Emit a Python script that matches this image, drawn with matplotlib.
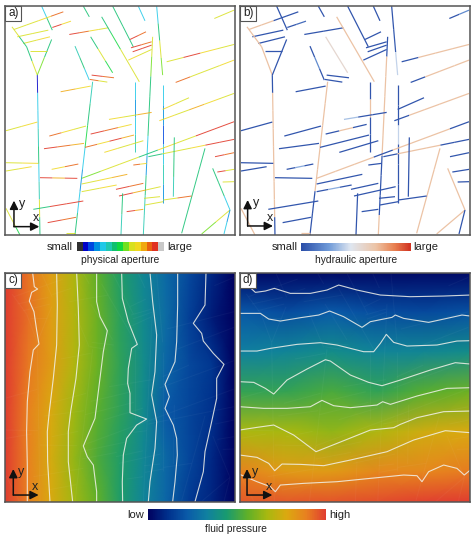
import numpy as np
import matplotlib
matplotlib.use("Agg")
import matplotlib.pyplot as plt
from matplotlib.collections import LineCollection
from matplotlib.colors import LinearSegmentedColormap, ListedColormap, Normalize
from matplotlib.cm import ScalarMappable
from matplotlib.patches import Rectangle

plt.rcParams['font.family'] = ['Liberation Sans', 'DejaVu Sans']

# fracture network (x0, y0, x1, y1)
fractures = [
    (125,18,157,90), (42,88,190,35), (157,82,213,63), (52,110,145,90), (70,130,150,110),
    (36,80,80,140), (80,140,112,225), (155,118,112,225), (90,153,140,153), (112,225,120,705),
    (250,18,268,50), (208,103,325,83), (305,50,418,245), (338,18,400,140), (415,18,435,62),
    (390,118,438,95), (393,143,455,125), (398,155,455,135), (385,180,455,148), (470,18,488,225),
    (458,110,430,705), (643,55,702,30), (500,185,702,133), (527,247,702,180), (272,110,338,218),
    (225,138,268,240), (275,225,342,233), (270,238,322,246), (182,275,272,258), (278,245,225,705),
    (406,245,406,455), (488,255,488,610), (488,328,567,293), (478,362,702,280), (327,358,455,337),
    (18,392,112,366), (148,408,258,378), (272,402,395,373), (132,446,252,430), (255,442,402,405),
    (313,457,430,422), (245,535,702,365), (445,470,702,418), (523,412,520,590), (615,445,545,700),
    (645,470,702,458), (400,495,440,490), (18,488,115,490), (18,513,95,500), (155,508,235,492),
    (120,533,232,535), (245,552,382,523), (245,575,350,555), (348,568,430,550), (357,588,482,560),
    (652,516,702,508), (668,546,702,545), (638,505,690,630), (690,630,605,702), (690,630,672,702),
    (368,580,363,705), (432,595,480,590), (435,615,490,605), (490,600,575,588), (380,635,430,628),
    (100,628,250,603), (143,668,228,652), (18,625,60,705), (198,700,225,700),
]

# physical aperture along each fracture, 0 small to 1 large
ap_phys = [
    [.3,.45], [.65,.6,.7,.85], [.88,.7], [.65,.65], [.6,.7],
    [.65,.4], [.4,.6], [.45,.55], [.65], [.12,.3,.3,.35,.45,.3,.35,.6,.45],
    [.4], [.88,.85,.7,.65], [.45,.5,.6,.65], [.45,.4], [.3],
    [.88,.8], [.88,.85], [.88,.9], [.7,.65], [.3,.4,.65,.55],
    [.65,.55,.45,.4,.4,.3,.25,.4,.35,.35], [.65], [.65,.88,.7,.65], [.85,.65,.65,.7], [.45,.6,.5],
    [.35,.45,.3], [.88,.85], [.8,.6], [.75,.7], [.35,.45,.5,.3,.2,.3,.4],
    [.3,.25,.3,.35], [.3,.25,.15,.3,.35,.25], [.7,.6], [.7,.65,.75,.7,.65], [.7,.65,.75],
    [.65,.7], [.85,.7,.65], [.88,.85,.7], [.88,.8,.75], [.85,.7,.88,.75],
    [.7,.65,.6], [.55,.65,.65,.45,.7,.65,.88,.9], [.4,.65,.65,.7,.88,.88], [.4,.4,.35], [.4,.45,.4,.45],
    [.88,.85], [.85,.7], [.65,.7], [.65,.7], [.7,.85],
    [.88,.75,.88], [.65,.7,.75], [.65,.7], [.88,.8], [.88,.75,.65],
    [.88,.6], [.65], [.4,.45,.3], [.65,.55], [.25,.3],
    [.4,.35], [.65], [.65], [.65,.85], [.88,.75],
    [.4,.88,.88], [.88,.85], [.65,.65,.5], [.65],
]

# hydraulic aperture along each fracture
ap_hyd = [
    [.03,.03], [.68,.68,.03,.03], [.03,.1], [.03], [.03],
    [.68], [.68], [.03], [.03], [.03,.68,.68,.68,.68,.68,.68,.68,.03],
    [.03], [.03,.03], [.68], [.03], [.03],
    [.03], [.03], [.03], [.03], [.03,.05,.4],
    [.03,.68,.68,.68,.68,.68,.03,.03,.03,.68], [.03,.2], [.03,.68,.68,.68], [.03,.68,.68,.68], [.55],
    [.03,.2,.03], [.03], [.03], [.03], [.68,.68,.68,.68,.68,.03,.03],
    [.03,.68,.03,.03], [.03,.03,.4,.03,.03,.03], [.03], [.03,.68,.68,.68,.68], [.35,.03,.03],
    [.03], [.03], [.03,.68,.03], [.03], [.03],
    [.03], [.68,.68,.68,.03,.68,.68,.68,.03], [.03,.68,.68,.68,.03,.03], [.03], [.68,.68,.68,.68],
    [.03], [.03], [.03], [.03], [.03,.3,.03],
    [.03], [.03], [.03,.3,.03], [.03], [.03],
    [.03], [.03], [.68], [.68], [.03],
    [.03], [.03], [.03], [.03], [.03],
    [.03], [.03], [.68], [.68],
]

# fluid pressure read at grid points, 0 low to 1 high
c_x = [16, 85, 154, 223, 292, 361, 430, 499, 568, 637, 705]
c_y = [23, 160, 300, 440, 580, 710]
c_p = [
    [1.0, .907, .804, .683, .556, .45, .356, .265, .175, .086, 0],
    [1.0, .915, .807, .69, .577, .469, .373, .273, .152, .065, 0],
    [1.0, .90, .81, .685, .575, .48, .38, .25, .175, .125, 0],
    [1.0, .885, .77, .655, .553, .475, .375, .217, .165, .112, 0],
    [1.0, .883, .76, .64, .53, .45, .36, .26, .17, .09, 0],
    [1.0, .885, .77, .66, .56, .45, .35, .25, .14, .085, 0],
]
d_x = [8, 146, 284, 422, 560, 700]
d_y = [23, 140, 260, 380, 500, 620, 710]
d_p = [
    [.02, .02, .02, .02, .02, .02],
    [.215, .185, .22, .185, .176, .197],
    [.33, .35, .38, .344, .356, .38],
    [.488, .487, .524, .483, .545, .58],
    [.677, .67, .633, .684, .75, .775],
    [.88, .82, .82, .865, .87, .895],
    [.95, .95, .96, .97, .99, 1.0],
]

# isobars
c_lines = [
    [(98,23),(103,65),(113,72),(95,82),(88,108),(102,140),(110,195),(117,237),(100,255),(90,320),(82,410),(80,500),(82,600),(82,710)],
    [(170,23),(172,120),(170,240),(160,340),(148,440),(142,500),(143,590),(150,710)],
    [(230,23),(235,130),(238,240),(228,340),(212,440),(205,500),(205,590),(218,710)],
    [(290,23),(290,110),(300,155),(322,197),(310,260),(295,380),(285,460),(250,543),(262,575),(280,600),(290,680),(290,710)],
    [(365,23),(367,100),(385,170),(412,238),(395,250),(385,310),(383,355),(390,385),(390,443),(440,462),(410,480),(380,520),(370,570),(367,650),(368,710)],
    [(450,23),(458,110),(470,210),(465,320),(455,390),(470,470),(465,550),(450,650),(445,710)],
    [(533,23),(533,120),(530,230),(525,290),(495,358),(508,395),(495,430),(520,480),(530,520),(532,570),(525,650),(518,710)],
    [(618,23),(615,120),(580,175),(605,205),(610,228),(640,265),(672,298),(650,340),(650,400),(635,470),(615,560),(610,620),(585,710)],
]
d_lines = [
    [(42,70),(55,82),(85,78),(112,70),(160,85),(220,85),(270,75),(305,60),(360,75),(430,90),(520,95),(620,93),(700,90)],
    [(8,145),(70,145),(95,162),(130,168),(190,158),(245,150),(278,138),(320,155),(375,187),(400,170),(465,157),(475,150),(500,160),(575,172),(630,160),(675,150),(700,153)],
    [(8,258),(60,258),(100,250),(180,238),(250,233),(300,240),(380,260),(410,260),(430,235),(448,208),(470,232),(510,243),(600,240),(660,228),(700,227)],
    [(8,350),(50,352),(85,370),(110,387),(150,345),(210,312),(265,284),(280,288),(340,330),(395,352),(435,362),(490,345),(580,315),(655,293),(700,297)],
    [(8,425),(80,430),(150,430),(220,425),(255,406),(290,422),(340,428),(420,420),(437,410),(460,418),(540,393),(630,370),(700,368)],
    [(8,495),(60,487),(110,480),(170,510),(237,560),(300,535),(400,495),(470,488),(490,478),(540,458),(620,440),(700,438)],
    [(8,570),(60,577),(95,595),(113,617),(135,597),(190,598),(260,602),(340,585),(450,560),(530,525),(625,497),(700,503)],
    [(8,628),(60,650),(100,665),(115,680),(130,660),(200,655),(300,650),(400,640),(500,630),(540,632),(555,650),(575,620),(620,600),(660,610),(682,630),(700,615)],
]

phys_colors = ['#303030', '#0000c8', '#0048e0', '#0090e0', '#20c8e8', '#20c8b0', '#10c070', '#10d840',
               '#70e020', '#d8e020', '#f0d820', '#f0a810', '#e86010', '#e03020', '#c8c8c8']
hyd_nodes = [(0, '#2a4ea8'), (.25, '#6f9ad8'), (.45, '#dfe6f0'), (.68, '#ecc4a6'), (.85, '#e88050'), (1, '#d03020')]
fluid_nodes = [(0, '#00005e'), (.11, '#00308c'), (.22, '#0a5aa8'), (.33, '#1080a0'), (.44, '#189a70'),
               (.56, '#60b028'), (.67, '#a8b810'), (.78, '#dca810'), (.89, '#e88020'), (1, '#e03c30')]

phys_cmap = ListedColormap(phys_colors)
hyd_cmap = LinearSegmentedColormap.from_list('hyd', hyd_nodes)
fluid_cmap = LinearSegmentedColormap.from_list('fluid', fluid_nodes)
norm = Normalize(0, 1)

W, H = 474, 535
fig = plt.figure(figsize=(W / 100, H / 100), dpi=100)
GREY = '#555555'
TXT = '#222222'


def box(l, t, r, b):
    return fig.add_axes([l / W, 1 - b / H, (r - l) / W, (b - t) / H])


def label(x, y, s, ha='center', size=8):
    fig.text(x / W, 1 - y / H, s, ha=ha, va='center', fontsize=size, color=TXT)


def network_segments(dx=0, dy=0):
    segs = []
    for x0, y0, x1, y1 in fractures:
        segs.append([(x0 + dx, y0 + dy), (x1 + dx, y1 + dy)])
    return segs


def split(values):
    segs, vals = [], []
    for (x0, y0, x1, y1), v in zip(fractures, values):
        t = np.linspace(0, 1, len(v) + 1)
        for i in range(len(v)):
            segs.append([(x0 + (x1 - x0) * t[i], y0 + (y1 - y0) * t[i]),
                         (x0 + (x1 - x0) * t[i + 1], y0 + (y1 - y0) * t[i + 1])])
            vals.append(v[i])
    return segs, vals


def finish(ax, name, org, ymin, ymax, xmin, xmax):
    ax.set_xlim(xmin, xmax)
    ax.set_ylim(ymax, ymin)
    ax.set_xticks([])
    ax.set_yticks([])
    for s in ax.spines.values():
        s.set_color(GREY)
        s.set_linewidth(1.1)
    ax.add_patch(Rectangle((xmin, ymin), 48, 46, fc='white', ec=GREY, lw=0.8, zorder=5))
    ax.text(xmin + 24, ymin + 23, name, fontsize=8.5, color=TXT, va='center', ha='center', zorder=6)
    ox, oy = org
    for tip in [(ox, oy - 78), (ox + 76, oy)]:
        ax.annotate('', xy=tip, xytext=org, zorder=6,
                    arrowprops=dict(arrowstyle='-|>,head_width=0.25,head_length=0.5', color='#111111', lw=1.1,
                                    shrinkA=0, shrinkB=0))
    ax.text(ox + 24, oy - 68, 'y', fontsize=9, color=TXT, ha='center', va='center', zorder=6)
    ax.text(ox + 66, oy - 25, 'x', fontsize=9, color=TXT, ha='center', va='center', zorder=6)


# a)
ax = box(5.3, 5.5, 235, 235.3)
segs, vals = split(ap_phys)
ax.add_collection(LineCollection(segs, cmap=phys_cmap, norm=norm, array=np.array(vals), linewidths=0.7, alpha=0.85))
finish(ax, 'a)', (42, 680), 16, 706, 16, 705)

# b)
ax = box(240.3, 5.5, 470, 235.3)
segs, vals = split(ap_hyd)
ax.add_collection(LineCollection(segs, cmap=hyd_cmap, norm=norm, array=np.array(vals), linewidths=0.9))
finish(ax, 'b)', (38, 678), 16, 706, 16, 705)

# c)
ax = box(5.3, 272.7, 235, 501.7)
ax.pcolormesh(c_x, c_y, np.array(c_p), cmap=fluid_cmap, norm=norm, shading='gouraud')
ax.add_collection(LineCollection(network_segments(0, 7), colors='white', alpha=0.035, linewidths=0.8))
ax.add_collection(LineCollection(c_lines, colors='#f2f2ea', alpha=0.85, linewidths=0.8))
finish(ax, 'c)', (40, 690), 23, 710, 16, 705)

# d)
ax = box(239.7, 272.7, 470.3, 501.7)
ax.pcolormesh(d_x, d_y, np.array(d_p), cmap=fluid_cmap, norm=norm, shading='gouraud')
ax.add_collection(LineCollection(network_segments(-8, 7), colors='white', alpha=0.035, linewidths=0.8))
ax.add_collection(LineCollection(d_lines, colors='#f2f2ea', alpha=0.85, linewidths=0.8))
finish(ax, 'd)', (30, 690), 23, 710, 8, 700)

# colour bars
for rect, cmap, small, big in [((76.7, 242.3, 164, 251), phys_cmap, (73, 'small'), (167, 'large')),
                               ((301.3, 243.3, 411, 251), hyd_cmap, (298, 'small'), (413.5, 'large')),
                               ((147.7, 509.3, 326.3, 519.7), fluid_cmap, (144.5, 'low'), (329, 'high'))]:
    cax = box(*rect)
    cb = fig.colorbar(ScalarMappable(norm=norm, cmap=cmap), cax=cax, orientation='horizontal')
    cb.outline.set_visible(False)
    cb.set_ticks([])
    mid = (rect[1] + rect[3]) / 2
    label(small[0], mid, small[1], ha='right')
    label(big[0], mid, big[1], ha='left')

label(120, 260, 'physical aperture', size=7.4)
label(356.5, 260, 'hydraulic aperture', size=7.4)
label(236, 529, 'fluid pressure', size=7.4)

fig.savefig('out.png', dpi=100)
